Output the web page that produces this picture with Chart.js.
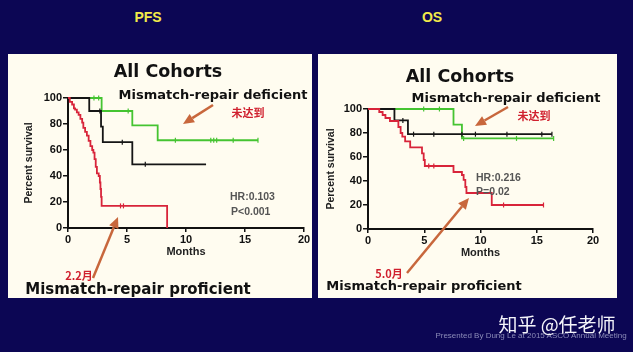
<!DOCTYPE html>
<html>
<head>
<meta charset="utf-8">
<script src="https://cdn.jsdelivr.net/npm/chart.js@4.4.1/dist/chart.umd.min.js"></script>
<style>
  html, body { margin: 0; padding: 0; }
  body { width: 633px; height: 352px; background: #0c0654; position: relative; overflow: hidden; }
  .panel { position: absolute; background: #fffcf0; }
  .panel canvas { position: absolute; left: 0; top: 0; }
  .t { position: absolute; white-space: nowrap; transform: translate(-50%, -50%); line-height: 1; }
  .l { position: absolute; white-space: nowrap; transform: translate(0, -50%); line-height: 1; }
  .head { font: bold 14px "Liberation Sans", Arial, sans-serif; color: #f2ea4a; }
  .cohort { font: bold 17.5px "DejaVu Sans", sans-serif; color: #111; }
  .group { font: bold 13px "DejaVu Sans", sans-serif; color: #111; }
  .hr { font: bold 10.5px "Liberation Sans", Arial, sans-serif; color: #555; }
  .red { font: bold 11px "Noto Sans CJK SC", sans-serif; color: #d0202e; }
  svg { position: absolute; left: 0; top: 0; }
</style>
</head>
<body>

<div class="panel" style="left:8px; top:54px; width:304px; height:244px;">
  <canvas id="pfsChart" width="304" height="244"></canvas>
</div>
<div class="panel" style="left:318px; top:54px; width:299px; height:244px;">
  <canvas id="osChart" width="299" height="244"></canvas>
</div>

<div class="t head" style="left:148px; top:17px;">PFS</div>
<div class="t head" style="left:432px; top:17px;">OS</div>

<div class="t cohort" style="left:168px; top:71px;">All Cohorts</div>
<div class="t cohort" style="left:460px; top:76px;">All Cohorts</div>

<div class="t group" style="left:213px; top:94px;">Mismatch-repair deficient</div>
<div class="t group" style="left:506px; top:97px;">Mismatch-repair deficient</div>
<div class="t group" style="left:138px; top:289px; font-size:15px;">Mismatch-repair proficient</div>
<div class="t group" style="left:424px; top:285px;">Mismatch-repair proficient</div>

<div class="t red" style="left:248px; top:112px;">未达到</div>
<div class="t red" style="left:534px; top:115px;">未达到</div>
<div class="t red" style="left:79px; top:275px;">2.2月</div>
<div class="t red" style="left:389px; top:273px;">5.0月</div>

<div class="l hr" style="left:230px; top:196px;">HR:0.103</div>
<div class="l hr" style="left:231px; top:211px;">P&lt;0.001</div>
<div class="l hr" style="left:476px; top:177px;">HR:0.216</div>
<div class="l hr" style="left:476px; top:191px;">P=0.02</div>

<svg id="arrows" width="633" height="352"></svg>

<div class="t" style="left:531px; top:335px; font: 8px 'Liberation Sans', Arial, sans-serif; color:#8c8cb8;">Presented By Dung Le at 2015 ASCO Annual Meeting</div>
<div class="t" style="left:557px; top:323px; font: 19px 'Noto Sans CJK SC', sans-serif; color:#f4f4fa;">知乎 @任老师</div>

<script>
// ---- PFS (months at each step, percent surviving after the step) ----
const pfsRedMonths = [0, 0.15, 0.35, 0.5, 0.6, 0.75, 0.9, 1.05, 1.2, 1.3, 1.45, 1.6, 1.75, 1.9, 2.05, 2.15, 2.25, 2.35, 2.45, 2.6, 2.7, 2.75, 2.8, 2.85, 8.4];
const pfsRedSurv   = [100, 97, 95, 92, 91, 89, 87, 84, 81, 77, 74, 71, 67, 63, 60, 58, 53, 47, 42, 40, 35, 30, 24, 17, 0];
const pfsBlackMonths = [0, 1.8, 2.8, 2.95, 5.45, 11.7];
const pfsBlackSurv   = [100, 90, 78, 66, 49, 49];
const pfsGreenMonths = [0, 2.85, 5.45, 7.6, 16.1];
const pfsGreenSurv   = [100, 90, 79, 67.5, 67.5];
// censored patients
const pfsRedCensorMonths   = [4.45, 4.7];
const pfsRedCensorSurv     = [17, 17];
const pfsBlackCensorMonths = [2.7, 4.6, 6.55];
const pfsBlackCensorSurv   = [90, 66, 49];
const pfsGreenCensorMonths = [2.2, 2.6, 5.1, 9.1, 12.1, 12.35, 12.6, 14.0, 16.1];
const pfsGreenCensorSurv   = [100, 100, 90, 67.5, 67.5, 67.5, 67.5, 67.5, 67.5];

// ---- OS ----
const osRedMonths = [0, 1.0, 1.3, 1.55, 1.95, 2.7, 2.9, 3.05, 3.3, 3.75, 4.8, 4.95, 5.05, 7.6, 8.35, 8.5, 8.65, 8.75, 11.0, 15.6];
const osRedSurv   = [100, 97.5, 95, 92.5, 90, 85, 80, 77, 73, 68, 63, 57.5, 52.5, 47.5, 45, 41, 35, 30, 20, 20];
const osBlackMonths = [0, 2.35, 3.55, 16.35];
const osBlackSurv   = [100, 90.5, 79, 79];
const osGreenMonths = [0, 7.6, 8.35, 16.5];
const osGreenSurv   = [100, 87, 75.5, 75.5];
const osRedCensorMonths   = [5.4, 5.85, 12.05, 15.6];
const osRedCensorSurv     = [52.5, 52.5, 20, 20];
const osBlackCensorMonths = [3.1, 4.05, 5.85, 8.35, 9.55, 12.35, 15.45, 16.35];
const osBlackCensorSurv   = [90.5, 79, 79, 79, 79, 79, 79, 79];
const osGreenCensorMonths = [4.95, 6.35, 8.5, 13.2, 16.5];
const osGreenCensorSurv   = [100, 100, 75.5, 75.5, 75.5];

const xTicks = [0, 5, 10, 15, 20];
const yTicks = [0, 20, 40, 60, 80, 100];

const RED = '#d8243a';
const BLACK = '#151515';
const GREEN = '#45c431';

const toPoints = (xs, ys) => xs.map((x, i) => ({ x: x, y: ys[i] }));

const curve = (xs, ys, color) => ({
    type: 'line',
    data: toPoints(xs, ys),
    borderColor: color,
    borderWidth: 1.8,
    stepped: 'before',
    pointRadius: 0,
    fill: false,
    clip: false
});

const censor = (xs, ys, color) => ({
    type: 'scatter',
    data: toPoints(xs, ys),
    borderColor: color,
    backgroundColor: color,
    pointStyle: 'line',
    rotation: 90,
    pointRadius: 2.5,
    borderWidth: 1.2,
    showLine: false,
    clip: false
});

const axisFont = { family: "'Liberation Sans', Arial, sans-serif", weight: 'bold', size: 11 };

function buildOptions(pad, yWidth, yTitlePad) {
    return {
        responsive: false,
        animation: false,
        layout: { padding: pad },
        plugins: { legend: { display: false }, tooltip: { enabled: false } },
        scales: {
            x: {
                type: 'linear',
                min: 0,
                max: 20,
                afterBuildTicks: axis => { axis.ticks = xTicks.map(v => ({ value: v })); },
                ticks: { color: '#111', font: axisFont, padding: 1, maxRotation: 0 },
                grid: { drawOnChartArea: false, drawTicks: true, tickLength: 4, color: '#111', lineWidth: 1.5 },
                border: { color: '#111', width: 2 },
                title: { display: true, text: 'Months', color: '#222', font: axisFont, padding: 0 },
                afterFit: axis => { axis.height = 31; }
            },
            y: {
                min: 0,
                max: 100,
                afterBuildTicks: axis => { axis.ticks = yTicks.map(v => ({ value: v })); },
                ticks: { color: '#111', font: axisFont, padding: 1 },
                grid: { drawOnChartArea: false, drawTicks: true, tickLength: 5, color: '#111', lineWidth: 1.5 },
                border: { color: '#111', width: 2 },
                title: { display: true, text: 'Percent survival', color: '#222', font: { ...axisFont, size: 10.5 }, padding: { top: yTitlePad, bottom: 0 } },
                afterFit: axis => { axis.width = yWidth; }
            }
        }
    };
}

new Chart(document.getElementById('pfsChart').getContext('2d'), {
    type: 'line',
    data: {
        datasets: [
            curve(pfsRedMonths, pfsRedSurv, RED),
            censor(pfsRedCensorMonths, pfsRedCensorSurv, RED),
            curve(pfsBlackMonths, pfsBlackSurv, BLACK),
            censor(pfsBlackCensorMonths, pfsBlackCensorSurv, BLACK),
            curve(pfsGreenMonths, pfsGreenSurv, GREEN),
            censor(pfsGreenCensorMonths, pfsGreenCensorSurv, GREEN)
        ]
    },
    options: buildOptions({ left: 0, top: 44, right: 8, bottom: 39 }, 60, 15)
});

new Chart(document.getElementById('osChart').getContext('2d'), {
    type: 'line',
    data: {
        datasets: [
            curve(osRedMonths, osRedSurv, RED),
            censor(osRedCensorMonths, osRedCensorSurv, RED),
            curve(osBlackMonths, osBlackSurv, BLACK),
            censor(osBlackCensorMonths, osBlackCensorSurv, BLACK),
            curve(osGreenMonths, osGreenSurv, GREEN),
            censor(osGreenCensorMonths, osGreenCensorSurv, GREEN)
        ]
    },
    options: buildOptions({ left: 0, top: 55, right: 24, bottom: 38 }, 50, 7)
});

// annotation arrows (tail -> head), page pixels
const arrows = [
    [213, 105, 183, 124],
    [93, 278, 118, 217],
    [508, 107, 475, 126],
    [407, 273, 469, 198]
];
const svg = document.getElementById('arrows');
const ARROW = '#c8673c';
arrows.forEach(([x1, y1, x2, y2]) => {
    const ang = Math.atan2(y2 - y1, x2 - x1);
    const len = 11, half = 5;
    const bx = x2 - len * Math.cos(ang), by = y2 - len * Math.sin(ang);
    const line = document.createElementNS('http://www.w3.org/2000/svg', 'line');
    line.setAttribute('x1', x1); line.setAttribute('y1', y1);
    line.setAttribute('x2', bx); line.setAttribute('y2', by);
    line.setAttribute('stroke', ARROW); line.setAttribute('stroke-width', 2.5);
    svg.appendChild(line);
    const px = -Math.sin(ang) * half, py = Math.cos(ang) * half;
    const head = document.createElementNS('http://www.w3.org/2000/svg', 'polygon');
    head.setAttribute('points', `${x2},${y2} ${bx + px},${by + py} ${bx - px},${by - py}`);
    head.setAttribute('fill', ARROW);
    svg.appendChild(head);
});
</script>
</body>
</html>
